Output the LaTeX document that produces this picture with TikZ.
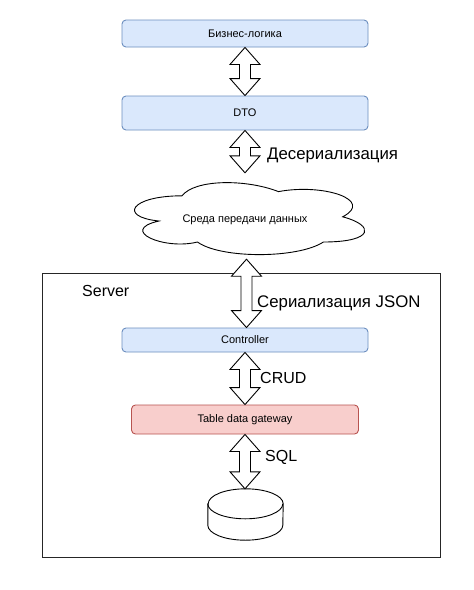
\documentclass[tikz,border=0pt]{standalone}
\usepackage{fontspec}
\setmainfont{Liberation Sans}
\usetikzlibrary{calc}
\definecolor{bluefill}{HTML}{DAE8FC}
\definecolor{blueline}{HTML}{6C8EBF}
\definecolor{redfill}{HTML}{F8CECC}
\definecolor{redline}{HTML}{B85450}
\tikzset{
  bluebox/.style={draw=blueline, fill=bluefill, rounded corners=4pt, line width=0.9pt,
    inner sep=0pt, font=\fontsize{11}{13}\selectfont},
  redbox/.style={draw=redline, fill=redfill, rounded corners=4pt, line width=0.9pt,
    inner sep=0pt, font=\fontsize{11}{13}\selectfont},
  lbl/.style={anchor=west, inner sep=0pt, font=\fontsize{16}{19}\selectfont},
  lblc/.style={anchor=west, inner sep=0pt, font=\fontsize{16.8}{19}\selectfont},
  barrow/.style={draw=black, fill=white, line width=0.9pt, line join=miter},
}
\newcommand\dblarr[2]{%
  \draw[barrow] let \p1=(#1), \p2=(#2) in
    (\x1,\y1) -- (\x1+15pt,\y1-17pt) -- (\x1+5.5pt,\y1-17pt) -- (\x1+5.5pt,\y2+17pt)
    -- (\x1+15pt,\y2+17pt) -- (\x1,\y2) -- (\x1-15pt,\y2+17pt) -- (\x1-5.5pt,\y2+17pt)
    -- (\x1-5.5pt,\y1-17pt) -- (\x1-15pt,\y1-17pt) -- cycle;}
\begin{document}
\begin{tikzpicture}[x=1pt,y=-1pt]
\useasboundingbox[fill=white] (0,0) rectangle (474,590);
% server frame
\node[draw=black!85, line width=0.9pt, minimum width=398pt, minimum height=284pt, inner sep=0pt]
  (server) at (241,415) {};
\node[anchor=west, inner sep=0pt, font=\fontsize{16}{19}\selectfont] (servertxt) at (82,291) {Server};
% boxes
\node[bluebox, minimum width=246pt, minimum height=27pt] (biz) at (245,33.5) {Бизнес-логика};
\node[bluebox, minimum width=246pt, minimum height=34pt] (dto) at (245,113) {DTO};
\node[bluebox, minimum width=246pt, minimum height=24pt] (ctrl) at (245,340) {Controller};
\node[redbox, minimum width=227pt, minimum height=29pt] (tdg) at (245,419.5) {Table data gateway};
% cloud
\node[inner sep=0pt, minimum width=257pt, minimum height=84pt, font=\fontsize{11}{13}\selectfont]
  (cl) at (246.5,217) {};
\begin{scope}[shift={(cl.north west)}, x=257pt, y=-84pt]
\draw[fill=white, line width=0.9pt]
  (0.25,0.25) .. controls (0.05,0.25) and (0,0.5) .. (0.16,0.55)
  .. controls (0,0.66) and (0.18,0.9) .. (0.31,0.8)
  .. controls (0.4,1) and (0.7,1) .. (0.8,0.8)
  .. controls (1,0.8) and (1,0.6) .. (0.875,0.5)
  .. controls (1,0.3) and (0.8,0.1) .. (0.625,0.2)
  .. controls (0.5,0.05) and (0.3,0.05) .. (0.25,0.25) -- cycle;
\end{scope}
\node[inner sep=0pt, font=\fontsize{11}{13}\selectfont] (cltxt) at (245,220) {Среда передачи данных};
% database
\node[inner sep=0pt, minimum width=75pt, minimum height=51pt] (db) at (245.5,514.5) {};
\draw[fill=white, line width=0.9pt]
  let \p1=(db.north west), \p2=(db.south east) in
  (\x1,\y1-15pt) -- (\x1,\y2+15pt) arc[start angle=180, end angle=360, x radius=37.5pt, y radius=15pt]
  -- (\x2,\y1-15pt) arc[start angle=0, end angle=180, x radius=37.5pt, y radius=15pt] -- cycle;
\draw[line width=0.9pt]
  let \p1=(db.north west) in
  (\x1,\y1-15pt) arc[start angle=180, end angle=360, x radius=37.5pt, y radius=15pt];
% arrows
\coordinate (c2) at ($(cl.north)+(0,-2)$);
\dblarr{biz.south}{dto.north}
\dblarr{dto.south}{c2}
\dblarr{cl.south}{ctrl.north}
\dblarr{ctrl.south}{tdg.north}
\dblarr{tdg.south}{db.north}
% labels
\node[lblc] (l1) at (267,155) {Десериализация};
\node[lblc] (l2) at (257,303) {Сериализация JSON};
\node[lbl] (l3) at (260,378) {CRUD};
\node[lbl] (l4) at (265,457) {SQL};
\end{tikzpicture}
\end{document}
